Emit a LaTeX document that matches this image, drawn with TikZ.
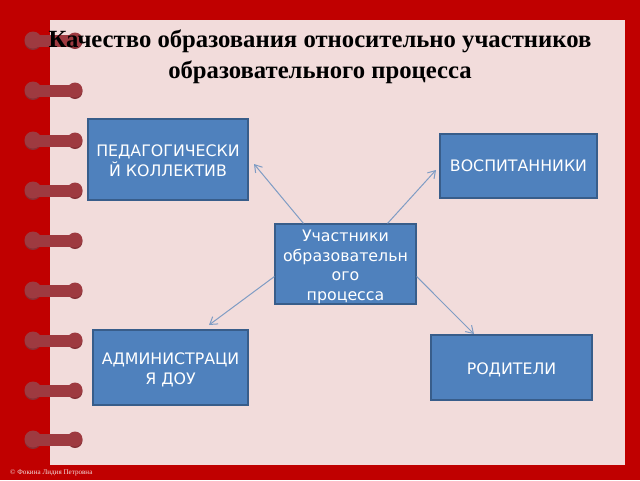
\documentclass[tikz,border=0pt]{standalone}
\usepackage{fontspec}
\usetikzlibrary{arrows.meta}
\setmainfont{Liberation Serif}
\newfontfamily\boxfont{DejaVu Sans}
\definecolor{frame}{HTML}{C00000}
\definecolor{paper}{HTML}{F2DCDB}
\definecolor{boxfill}{HTML}{4F81BD}
\definecolor{boxline}{HTML}{385D8A}
\definecolor{arrowc}{HTML}{7F9CC4}
\definecolor{ring}{HTML}{9E3A40}
\definecolor{ringd}{HTML}{863036}
\tikzset{
  bx/.style={draw=boxline,line width=1.2pt,fill=boxfill,text=white,align=center,inner sep=0pt,font=\boxfont\fontsize{15.8}{19.6}\selectfont},
  arr/.style={draw=arrowc,line width=1pt,-{Straight Barb[length=7pt,width=9pt]}},
  ringline/.style={draw=ring,line width=12pt,line cap=butt}
}
\newcommand{\spiralring}[1]{%
  \fill[ringd] (33,#1+1.5) circle (8.5);
  \fill[ringd] (75,#1+1.5) circle (7.5);
  \fill[ring] (33,#1) circle (8.5);
  \fill[ring] (75,#1) circle (7.5);
  \draw[ringline] (33,#1+0.5) -- (75,#1+0.5);
}
\newcommand{\pushdown}[1]{\rule{0pt}{#1pt}}
\begin{document}
\begin{tikzpicture}[x=1pt,y=-1pt]
\useasboundingbox (0,0) rectangle (640,480);
\fill[frame] (0,0) rectangle (640,480);
\fill[paper] (50,20) rectangle (625,465);
\foreach \yy in {40,90,140,190,240,290,340,390,439} {\spiralring{\yy}}
\node[font=\bfseries\fontsize{24.7}{31}\selectfont,align=center,text=black] (title) at (320,56.5) {Качество образования относительно участников\\образовательного процесса};
\node[bx,minimum width=160pt,minimum height=81pt] (ped) at (168,159.5) {\pushdown{14}ПЕДАГОГИЧЕСКИ\\Й КОЛЛЕКТИВ};
\node[bx,minimum width=157pt,minimum height=64pt] (vos) at (518.5,166) {ВОСПИТАННИКИ};
\node[bx,minimum width=141pt,minimum height=80pt] (uch) at (345.5,264) {\pushdown{17}Участники\\образовательн\\ого\\процесса};
\node[bx,minimum width=155pt,minimum height=75pt] (adm) at (170.5,367.5) {\pushdown{16}АДМИНИСТРАЦИ\\Я ДОУ};
\node[bx,minimum width=161pt,minimum height=65pt] (rod) at (511.5,367.5) {\pushdown{16}РОДИТЕЛИ};
\coordinate (t1) at (254,164);
\coordinate (t2) at (436,170);
\coordinate (t3) at (209,325);
\coordinate (t4) at (474,334);
\draw[arr] (uch.136) -- (t1);
\draw[arr] (uch.44) -- (t2);
\draw[arr] (uch.190) -- (t3);
\draw[arr] (uch.-10) -- (t4);
\node[anchor=west,inner sep=0pt,text=paper,font=\fontsize{7.1}{8}\selectfont] (copy) at (10,473) {© Фокина Лидия Петровна};
\end{tikzpicture}
\end{document}
